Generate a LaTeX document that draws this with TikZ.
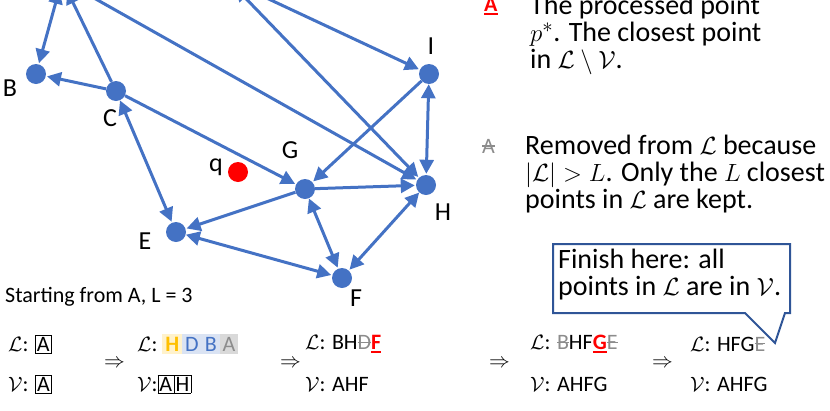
\documentclass[tikz,border=0pt]{standalone}
\usepackage{fontspec}
\setmainfont{Carlito}
\usetikzlibrary{arrows.meta}
\definecolor{nb}{HTML}{4472C4}
\definecolor{cb}{HTML}{2F5597}
\definecolor{hy}{HTML}{FFF2CC}
\definecolor{hyt}{HTML}{FFC000}
\definecolor{hb}{HTML}{DAE3F3}
\definecolor{hg}{HTML}{D9D9D9}
\definecolor{gt}{HTML}{8C8C8C}
\newcommand{\strk}[1]{\textcolor{gt}{\setbox0\hbox{#1}\rlap{#1}\rule[0.3em]{\wd0}{1.3pt}}}
\newcommand{\proc}[1]{\textcolor{red}{\setbox0\hbox{\textbf{#1}}\rlap{\textbf{#1}}\rule[-0.14em]{\wd0}{1.6pt}}}
\newcommand{\bx}[1]{\fboxsep=1.5pt\fbox{#1}}
\newcommand{\hl}[3]{\colorbox{#1}{\textcolor{#2}{#3}}}
\begin{document}
\begin{tikzpicture}[x=1pt,y=-1pt,
  pt/.style={circle,fill=nb,minimum size=20pt,inner sep=0pt},
  lab/.style={font=\fontsize{26}{28}\selectfont},
  txt/.style={font=\fontsize{22}{27}\selectfont,inner sep=0pt,anchor=north west,align=left},
  big/.style={txt,font=\fontsize{28}{27}\selectfont},
  e/.style={draw=nb,line width=3pt,-{Triangle[width=14pt,length=14pt]},shorten >=1pt},
  ee/.style={e,{Triangle[width=14pt,length=14pt]}-{Triangle[width=14pt,length=14pt]}}]
\useasboundingbox (0,0) rectangle (830,410);
\node[pt] (A) at (62,-20) {};
\node[pt] (D) at (228,-20) {};
\node[pt] (B) at (36,74) {};
\node[pt] (C) at (116,91) {};
\node[pt] (G) at (305,189) {};
\node[pt] (H) at (426,185) {};
\node[pt] (I) at (429,74) {};
\node[pt] (E) at (176,232) {};
\node[pt] (F) at (342,278) {};
\node[circle,fill=red,minimum size=20pt,inner sep=0pt] (q) at (238,172) {};
\node[lab] (lB) at (10,88) {B};
\node[lab] (lC) at (110,118) {C};
\node[lab] (lG) at (290,150) {G};
\node[lab] (lq) at (216,167) {q};
\node[lab] (lI) at (431,46) {I};
\node[lab] (lH) at (443,212) {H};
\node[lab] (lE) at (145,241) {E};
\node[lab] (lF) at (356,298) {F};
\draw[ee] (A) -- (B);
\draw[e] (C) -- (A);
\draw[e] (C) -- (B);
\draw[e] (A) -- (H);
\draw[e] (C) -- (G);
\draw[ee] (C) -- (E);
\draw[ee] (D) -- (H);
\draw[e] (D) -- (I);
\draw[e] (I) -- (G);
\draw[ee] (I) -- (H);
\draw[e] (G) -- (H);
\draw[e] (G) -- (E);
\draw[ee] (G) -- (F);
\draw[ee] (H) -- (F);
\draw[ee] (E) -- (F);
% legend
\node[txt] (k1) at (484,-3) {\proc{A}};
\node[big] (t1) at (530,-5) {The processed point\\$p^*$. The closest point\\in $\mathcal{L}\setminus\mathcal{V}$.};
\node[txt] (k2) at (482,139) {\strk{A}};
\node[big] (t2) at (525,135) {Removed from $\mathcal{L}$ because\\$|\mathcal{L}|>L$. Only the $L$ closest\\points in $\mathcal{L}$ are kept.};
% callout
\draw[cb,line width=2pt,fill=white] (553,244) -- (790,244) -- (790,313) -- (785,313) -- (775,343) -- (745,313) -- (553,313) -- cycle;
\node[big] (cl) at (558,249) {Finish here: all\\points in $\mathcal{L}$ are in $\mathcal{V}$.};
% bottom
\node[txt] (st) at (5,287) {Starting from A, L = 3};
\node[txt,anchor=west] (r1) at (8,344) {$\mathcal{L}$: \bx{A}};
\node[txt,anchor=west] (r2) at (8,384) {$\mathcal{V}$: \bx{A}};
\node[txt,anchor=west] (a1) at (104,364) {$\Rightarrow$};
\node[txt,anchor=west] (r3) at (137,344) {$\mathcal{L}$:\ \hl{hy}{hyt}{\textbf{H}}\hl{hb}{nb}{D}\hl{hb}{nb}{B}\hl{hg}{gt}{A}};
\node[txt,anchor=west] (r4) at (137,384) {$\mathcal{V}$:{\fboxsep=1.5pt\fbox{A}\kern-0.4pt\fbox{H}}};
\node[txt,anchor=west] (a2) at (280,364) {$\Rightarrow$};
\node[txt,anchor=west] (r5) at (305,344) {$\mathcal{L}$: BH\strk{D}\proc{F}};
\node[txt,anchor=west] (r6) at (305,384) {$\mathcal{V}$: AHF};
\node[txt,anchor=west] (a3) at (489,364) {$\Rightarrow$};
\node[txt,anchor=west] (r7) at (530,344) {$\mathcal{L}$: \strk{B}HF\proc{G}\strk{E}};
\node[txt,anchor=west] (r8) at (530,384) {$\mathcal{V}$: AHFG};
\node[txt,anchor=west] (a4) at (652,364) {$\Rightarrow$};
\node[txt,anchor=west] (r9) at (690,344) {$\mathcal{L}$: HFG\strk{E}};
\node[txt,anchor=west] (r10) at (690,384) {$\mathcal{V}$: AHFG};
\end{tikzpicture}
\end{document}
